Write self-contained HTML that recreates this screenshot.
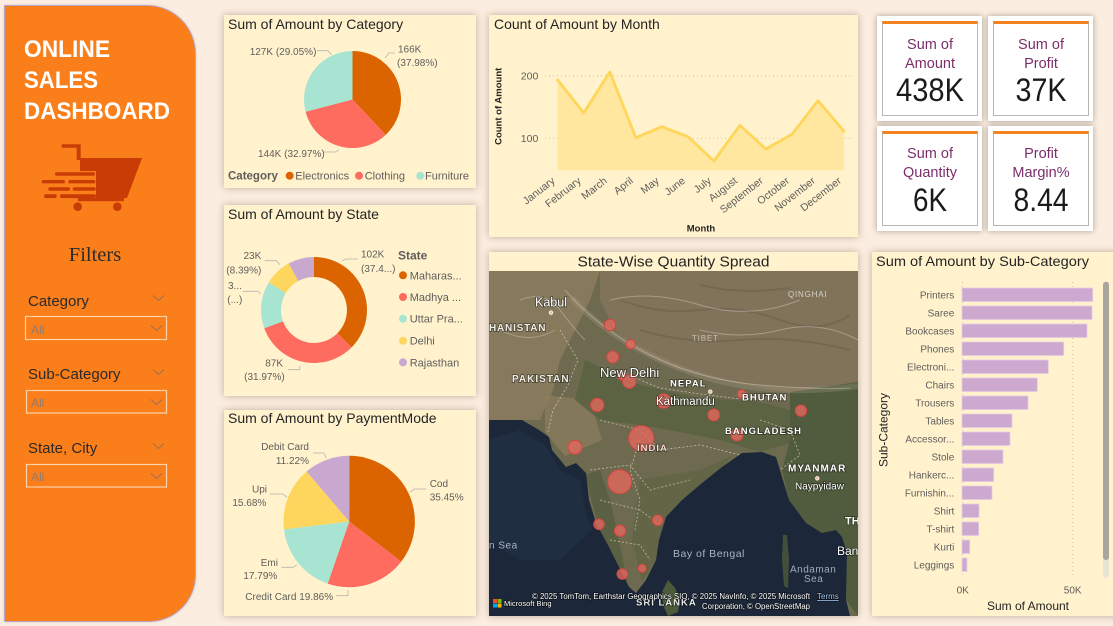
<!DOCTYPE html>
<html>
<head>
<meta charset="utf-8">
<style>
html,body{margin:0;padding:0;}
body{width:1113px;height:626px;background:#FBEDDF;position:relative;overflow:hidden;font-family:"Liberation Sans",sans-serif;}
.card{position:absolute;background:#FFF2CD;box-shadow:0 0 7px rgba(90,70,50,0.38);}
.panel{position:absolute;left:5px;top:6px;width:190px;height:615px;background:#FA7E19;border-radius:0 48px 46px 0;box-shadow:0 0 0 1px rgba(150,120,180,0.55),0 0 3px rgba(150,120,180,0.5);}
.kpi{position:absolute;background:#fff;box-shadow:0 0 6px rgba(0,0,0,0.32);}
.kpi .in{position:absolute;left:5px;top:5px;right:4px;bottom:5px;border:1px solid #B9B5B1;border-top:3px solid #F5821F;box-sizing:border-box;}
svg.ov{position:absolute;left:0;top:0;}
</style>
</head>
<body>
<div class="panel"></div>

<div class="card" style="left:224px;top:15px;width:252px;height:173px;"></div>
<div class="card" style="left:224px;top:205px;width:252px;height:191px;"></div>
<div class="card" style="left:224px;top:410px;width:252px;height:206px;"></div>
<div class="card" style="left:489px;top:15px;width:369px;height:222px;"></div>
<div class="card" style="left:489px;top:252px;width:369px;height:364px;"></div>
<div class="card" style="left:872px;top:252px;width:250px;height:364px;"></div>

<div class="kpi" style="left:877px;top:16px;width:105px;height:105px;"><div class="in"></div></div>
<div class="kpi" style="left:988px;top:16px;width:105px;height:105px;"><div class="in"></div></div>
<div class="kpi" style="left:877px;top:126px;width:105px;height:105px;"><div class="in"></div></div>
<div class="kpi" style="left:988px;top:126px;width:105px;height:105px;"><div class="in"></div></div>

<svg class="ov" width="1113" height="626" viewBox="0 0 1113 626" xmlns="http://www.w3.org/2000/svg" font-family="Liberation Sans, sans-serif">
<defs>
<clipPath id="mapclip"><rect x="489" y="271" width="369" height="345"/></clipPath>
</defs>

<!-- LEFT PANEL -->
<g fill="#FFFFFF" font-weight="bold" font-size="24">
<text x="24" y="57" textLength="86" lengthAdjust="spacingAndGlyphs">ONLINE</text>
<text x="24" y="88" textLength="74" lengthAdjust="spacingAndGlyphs">SALES</text>
<text x="24" y="119" textLength="146" lengthAdjust="spacingAndGlyphs">DASHBOARD</text>
</g>
<!-- cart -->
<g fill="#C93C05">
<polygon points="61.7,144.3 80.7,144.3 80.7,160 76.7,160 76.7,147.8 61.7,147.8"/>
<polygon points="80,158 142,158 127,198 96,198 96,171 80,171"/>
<rect x="55" y="172.3" width="40" height="3.4" rx="1.7"/>
<rect x="41.7" y="180" width="23.3" height="3.4" rx="1.7"/>
<rect x="68.3" y="180" width="27" height="3.4" rx="1.7"/>
<rect x="48.3" y="187.3" width="21.7" height="3.4" rx="1.7"/>
<rect x="72.7" y="187.3" width="23" height="3.4" rx="1.7"/>
<rect x="44" y="194.3" width="12.7" height="3.8" rx="1.9"/>
<rect x="60" y="194.3" width="36" height="3.8" rx="1.9"/>
<rect x="78" y="198" width="46" height="3.2"/>
<circle cx="77.7" cy="206.7" r="4.3"/>
<circle cx="117.3" cy="206.7" r="4.3"/>
</g>
<text x="95" y="261" text-anchor="middle" font-family="Liberation Serif, serif" font-size="20.5" fill="#2B2B2B">Filters</text>
<g font-size="15" fill="#2A2A2A">
<text x="28" y="306">Category</text>
<text x="28" y="379">Sub-Category</text>
<text x="28" y="453">State, City</text>
</g>
<g fill="none" stroke="#FDD3AA" stroke-width="1.2">
<rect x="25.5" y="316.5" width="141" height="23"/>
<rect x="26.5" y="390.5" width="140" height="22.5"/>
<rect x="26.5" y="464.5" width="140" height="22.5"/>
</g>
<g font-size="12" fill="#8F7A6E">
<text x="31" y="334">All</text>
<text x="31" y="407">All</text>
<text x="31" y="481">All</text>
</g>
<g fill="none" stroke="#9C6E5A" stroke-width="1">
<polyline points="153,295.5 158.5,300.5 164,295.5"/>
<polyline points="151,325.5 156.5,330.5 162,325.5"/>
<polyline points="153,369.5 158.5,374.5 164,369.5"/>
<polyline points="151,399.5 156.5,404.5 162,399.5"/>
<polyline points="153,443.5 158.5,448.5 164,443.5"/>
<polyline points="151,473.5 156.5,478.5 162,473.5"/>
</g>

<!-- CATEGORY PIE -->
<text x="228" y="29" font-size="14" fill="#252423">Sum of Amount by Category</text>
<path d="M352.5,99.5 L352.5,51 A48.5,48.5 0 0 1 385.74,134.82 Z" fill="#DC6400"/>
<path d="M352.5,99.5 L385.74,134.82 A48.5,48.5 0 0 1 305.56,111.71 Z" fill="#FE6B5F"/>
<path d="M352.5,99.5 L305.56,111.71 A48.5,48.5 0 0 1 352.5,51 Z" fill="#A7E4D2"/>
<g fill="none" stroke="#B9B4AC" stroke-width="0.8">
<polyline points="317,50.7 328,50.7 331.5,54.7"/>
<polyline points="385,58 389,53 395,53"/>
<polyline points="324,152 336.3,152 338.7,149.5"/>
</g>
<g font-size="10" fill="#605E5C">
<text x="398" y="52.5">166K</text>
<text x="397" y="66">(37.98%)</text>
<text x="249.7" y="55">127K (29.05%)</text>
<text x="258" y="157">144K (32.97%)</text>
</g>
<text x="228" y="179.7" font-size="11.5" font-weight="bold" fill="#605E5C">Category</text>
<circle cx="289.7" cy="175.7" r="4" fill="#DC6400"/>
<text x="295.3" y="179.7" font-size="11" fill="#605E5C">Electronics</text>
<circle cx="359" cy="175.7" r="4" fill="#FE6B5F"/>
<text x="364.7" y="179.7" font-size="11" fill="#605E5C">Clothing</text>
<circle cx="420.3" cy="175.7" r="4" fill="#A7E4D2"/>
<text x="425" y="179.7" font-size="11" fill="#605E5C">Furniture</text>

<!-- STATE DONUT -->
<text x="228" y="219" font-size="14" fill="#252423">Sum of Amount by State</text>
<path d="M314,257 A53,53 0 0 1 351.62,347.33 L337.42,333.25 A33,33 0 0 0 314,277 Z" fill="#DC6400"/>
<path d="M351.62,347.33 A53,53 0 0 1 264.24,328.24 L283.02,321.36 A33,33 0 0 0 337.42,333.25 Z" fill="#FE6B5F"/>
<path d="M264.24,328.24 A53,53 0 0 1 268.74,282.42 L285.82,292.83 A33,33 0 0 0 283.02,321.36 Z" fill="#A7E4D2"/>
<path d="M268.74,282.42 A53,53 0 0 1 288.75,263.4 L298.28,280.99 A33,33 0 0 0 285.82,292.83 Z" fill="#FED65D"/>
<path d="M288.75,263.4 A53,53 0 0 1 314,257 L314,277 A33,33 0 0 0 298.28,280.99 Z" fill="#C9A8CF"/>
<g fill="none" stroke="#B9B4AC" stroke-width="0.8">
<polyline points="342,260.7 346.3,259 358,259"/>
<polyline points="264.7,260.7 276.3,260.7 279.7,264.7"/>
<polyline points="243,291.3 258,291.3 260.7,294"/>
<polyline points="288,369.7 299.7,369.7 300,366"/>
</g>
<g font-size="10" fill="#605E5C">
<text x="361" y="257.5">102K</text>
<text x="361" y="271.8">(37.4...)</text>
<text x="261.3" y="258.8" text-anchor="end">23K</text>
<text x="261.3" y="273.5" text-anchor="end">(8.39%)</text>
<text x="228" y="288.8">3...</text>
<text x="227.3" y="303.2">(...)</text>
<text x="283" y="366.5" text-anchor="end">87K</text>
<text x="284.7" y="380.2" text-anchor="end">(31.97%)</text>
</g>
<text x="398" y="259.5" font-size="12" font-weight="bold" fill="#605E5C">State</text>
<g font-size="11" fill="#605E5C">
<circle cx="403" cy="275.3" r="4" fill="#DC6400"/><text x="409.7" y="279.3">Maharas...</text>
<circle cx="403" cy="297" r="4" fill="#FE6B5F"/><text x="409.7" y="301">Madhya ...</text>
<circle cx="403" cy="318.7" r="4" fill="#A7E4D2"/><text x="409.7" y="322.7">Uttar Pra...</text>
<circle cx="403" cy="340.7" r="4" fill="#FED65D"/><text x="409.7" y="344.7">Delhi</text>
<circle cx="403" cy="362.3" r="4" fill="#C9A8CF"/><text x="409.7" y="366.3">Rajasthan</text>
</g>

<!-- PAYMENT PIE -->
<text x="228" y="423" font-size="14" fill="#252423">Sum of Amount by PaymentMode</text>
<path d="M349.2,521.5 L349.2,455.8 A65.7,65.7 0 0 1 401.22,561.62 Z" fill="#DC6400"/>
<path d="M349.2,521.5 L401.22,561.62 A65.7,65.7 0 0 1 327.68,583.57 Z" fill="#FE6B5F"/>
<path d="M349.2,521.5 L327.68,583.57 A65.7,65.7 0 0 1 283.97,529.32 Z" fill="#A7E4D2"/>
<path d="M349.2,521.5 L283.97,529.32 A65.7,65.7 0 0 1 306.63,471.45 Z" fill="#FED65D"/>
<path d="M349.2,521.5 L306.63,471.45 A65.7,65.7 0 0 1 349.2,455.8 Z" fill="#C9A8CF"/>
<g fill="none" stroke="#B9B4AC" stroke-width="0.8">
<polyline points="313,453 324,453 326.3,458"/>
<polyline points="269.7,494 283,494 287,497.3"/>
<polyline points="409.7,492.3 414.7,489 426.3,489"/>
<polyline points="281.3,567.3 293,567.3 297,564.7"/>
<polyline points="336.3,595.7 348,595.7 348,590"/>
</g>
<g font-size="10" fill="#605E5C">
<text x="309" y="449.8" text-anchor="end">Debit Card</text>
<text x="309" y="463.8" text-anchor="end">11.22%</text>
<text x="267" y="492.5" text-anchor="end">Upi</text>
<text x="266.3" y="506.2" text-anchor="end">15.68%</text>
<text x="429.7" y="487.2">Cod</text>
<text x="429.7" y="500.5">35.45%</text>
<text x="278" y="565.8" text-anchor="end">Emi</text>
<text x="277.3" y="579.2" text-anchor="end">17.79%</text>
<text x="245.3" y="599.8">Credit Card 19.86%</text>
</g>

<!-- LINE CHART -->
<text x="494" y="29" font-size="14" fill="#252423">Count of Amount by Month</text>
<g stroke="#C8C2B4" stroke-width="1" stroke-dasharray="1,3">
<line x1="545" y1="75.7" x2="853" y2="75.7"/>
<line x1="545" y1="138.3" x2="853" y2="138.3"/>
</g>
<g font-size="10.5" fill="#605E5C" text-anchor="end">
<text x="538.3" y="79.5">200</text>
<text x="538.3" y="142">100</text>
</g>
<text transform="translate(498.3,106.3) rotate(-90)" text-anchor="middle" dy="3.3" font-size="9.5" font-weight="bold" fill="#252423">Count of Amount</text>
<path d="M557.7,170.3 L557.7,80 L583.7,113 L609.8,72 L635.8,137.7 L661.8,126.7 L687.9,136.7 L713.9,161 L739.9,125.3 L765.9,149 L792,134.3 L818,100.7 L844,131.3 L844,170.3 Z" fill="#FFE7A0"/>
<polyline points="557.7,80 583.7,113 609.8,72 635.8,137.7 661.8,126.7 687.9,136.7 713.9,161 739.9,125.3 765.9,149 792,134.3 818,100.7 844,131.3" fill="none" stroke="#FFD55A" stroke-width="2.8" stroke-linejoin="round" stroke-linecap="round"/>
<g font-size="10.5" fill="#605E5C" text-anchor="end">
<text transform="translate(555.7,182) rotate(-38)">January</text>
<text transform="translate(581.7,182) rotate(-38)">February</text>
<text transform="translate(607.8,182) rotate(-38)">March</text>
<text transform="translate(633.8,182) rotate(-38)">April</text>
<text transform="translate(659.8,182) rotate(-38)">May</text>
<text transform="translate(685.9,182) rotate(-38)">June</text>
<text transform="translate(711.9,182) rotate(-38)">July</text>
<text transform="translate(737.9,182) rotate(-38)">August</text>
<text transform="translate(763.9,182) rotate(-38)">September</text>
<text transform="translate(790,182) rotate(-38)">October</text>
<text transform="translate(816,182) rotate(-38)">November</text>
<text transform="translate(842,182) rotate(-38)">December</text>
</g>
<text x="701" y="231.3" text-anchor="middle" font-size="9.5" font-weight="bold" fill="#252423">Month</text>

<!-- KPI TEXT -->
<g font-size="14.5" fill="#7B2D6A" text-anchor="middle">
<text x="930" y="49">Sum of</text><text x="930" y="68">Amount</text>
<text x="1041" y="49">Sum of</text><text x="1041" y="68">Profit</text>
<text x="930" y="158">Sum of</text><text x="930" y="177">Quantity</text>
<text x="1041" y="158">Profit</text><text x="1041" y="177">Margin%</text>
</g>
<g font-size="32" fill="#1B1B1B" text-anchor="middle">
<text x="930" y="101" textLength="68" lengthAdjust="spacingAndGlyphs">438K</text>
<text x="1041" y="101" textLength="51" lengthAdjust="spacingAndGlyphs">37K</text>
<text x="930" y="211" textLength="34" lengthAdjust="spacingAndGlyphs">6K</text>
<text x="1041" y="211" textLength="55" lengthAdjust="spacingAndGlyphs">8.44</text>
</g>

<!-- MAP -->
<text x="673.5" y="266.5" text-anchor="middle" font-size="15" fill="#252423" textLength="192" lengthAdjust="spacingAndGlyphs">State-Wise Quantity Spread</text>
<g clip-path="url(#mapclip)">
<rect x="489" y="271" width="369" height="345" fill="#6E6A4F"/>
<polygon points="489,271 600,271 590,300 575,330 560,360 553,390 540,420 489,420" fill="#86795C"/>
<polygon points="600,271 858,271 858,382 800,394 760,388 720,380 680,370 640,352 615,330 600,300" fill="#80735A"/>
<g fill="none" stroke="#5E5644" stroke-width="2" opacity="0.35">
<path d="M620,300 Q660,315 700,310 T780,320 T850,315"/>
<path d="M640,330 Q690,345 740,340 T850,350"/>
<path d="M700,285 Q740,295 790,288"/>
</g>
<polygon points="545,395 590,400 602,440 565,456 545,432" fill="#8C7E5E" opacity="0.75"/>
<polygon points="585,360 640,385 700,398 760,402 790,410 800,440 760,452 720,440 680,432 640,425 600,420 575,400" fill="#58613F" opacity="0.85"/>
<polygon points="790,392 858,382 858,616 846,600 847,553 842,537 836,530 822,533 806,523 789,500 782,470 790,440" fill="#505C3D"/>
<polygon points="640,480 700,470 732,456 705,490 672,515 658,555 642,582 632,540" fill="#5A6341" opacity="0.6"/>
<polygon points="585,475 600,470 610,500 620,545 628,585 612,560 598,525" fill="#4F5A3A" opacity="0.6"/>
<g fill="none" stroke="#A99C86" stroke-width="6" opacity="0.3">
<path d="M572,298 Q615,345 690,372 T858,386"/>
</g>
<g fill="none" stroke="#ECE8E0" stroke-width="1" opacity="0.35">
<path d="M565,290 Q600,330 650,355 T760,385 T850,388"/>
<path d="M520,300 Q545,290 560,310 T585,340"/>
<path d="M500,330 Q530,345 555,330"/>
<path d="M610,300 Q650,290 700,305 T800,300"/>
<path d="M700,330 Q740,340 780,330 T858,340"/>
</g>
<polygon points="489,420 522,420 539,430 549,437 552,450 566,467 576,463 586,473 589,500 596,523 609,547 622,573 629,587 636,593 646,580 656,560 659,540 666,517 682,500 702,483 722,467 742,453 762,452 776,457 782,477 789,500 806,523 822,533 836,530 842,537 847,553 846,600 850,616 489,616" fill="#1C2839"/>
<polygon points="489,440 520,430 545,445 560,470 580,480 585,510 592,530 560,560 520,560 489,540" fill="#22334A" opacity="0.5"/>
<polygon points="668,580 675,588 680,600 678,612 668,616 663,605 662,592" fill="#4D5A3A"/>
<polygon points="783,535 787,535 789,560 788,588 784,586 782,560" fill="#4D5A3A" opacity="0.8"/>
<g fill="none" stroke="#E8E0D0" stroke-width="0.8" stroke-dasharray="2,2" opacity="0.7">
<path d="M560,330 L578,360 L568,385 L553,410 L548,432"/>
<path d="M620,372 L660,388 L700,394 L740,399"/>
<path d="M600,420 L640,430 L660,450 L700,445 L740,455"/>
<path d="M590,470 L630,465 L650,490 L690,480"/>
<path d="M600,500 L640,510 L660,525"/>
<path d="M610,540 L640,545 L650,560"/>
<path d="M640,440 L630,470 L640,500 L635,530"/>
<path d="M760,420 L790,430 L800,455 L780,470"/>
</g>
<g fill="#E2685C" fill-opacity="0.8" stroke="#D4463F" stroke-width="1">
<circle cx="610" cy="325" r="5.7"/>
<circle cx="630.7" cy="344.3" r="4.7"/>
<circle cx="612.7" cy="357" r="6"/>
<circle cx="621.7" cy="375.7" r="4.3"/>
<circle cx="629.3" cy="381.7" r="6.7"/>
<circle cx="597.3" cy="405" r="6.7"/>
<circle cx="663.7" cy="401" r="7.3"/>
<circle cx="741.7" cy="394" r="4.3"/>
<circle cx="801" cy="410.7" r="5.7"/>
<circle cx="713.7" cy="415" r="6"/>
<circle cx="737" cy="435" r="6"/>
<circle cx="641.3" cy="438.3" r="12.7"/>
<circle cx="575" cy="447.3" r="7"/>
<circle cx="619.7" cy="481.7" r="12"/>
<circle cx="657.7" cy="520.3" r="5.3"/>
<circle cx="599" cy="524.3" r="5.3"/>
<circle cx="620" cy="530.7" r="5.7"/>
<circle cx="642.3" cy="568.3" r="4"/>
<circle cx="622.3" cy="574" r="5.3"/>
</g>
<g fill="#F2B8A8" stroke="#FFFFFF" stroke-width="0.8">
<circle cx="551" cy="312.7" r="1.8"/>
<circle cx="710.3" cy="391.7" r="1.8"/>
<circle cx="817.3" cy="478.3" r="1.8"/>
</g>
<g fill="#FFFFFF" stroke="rgba(0,0,0,0.45)" stroke-width="1.6" style="paint-order:stroke">
<text x="535" y="306.5" font-size="12.5">Kabul</text>
<text x="489" y="331" font-size="10" font-weight="bold" letter-spacing="0.8" fill="#EFEDE6">HANISTAN</text>
<text x="512" y="382" font-size="10" font-weight="bold" letter-spacing="1" fill="#EFEDE6">PAKISTAN</text>
<text x="600" y="377" font-size="13">New Delhi</text>
<text x="670" y="386.5" font-size="9.5" font-weight="bold" letter-spacing="1">NEPAL</text>
<text x="656" y="405" font-size="11.5">Kathmandu</text>
<text x="742" y="400.5" font-size="9.5" font-weight="bold" letter-spacing="1">BHUTAN</text>
<text x="725" y="434" font-size="9.5" font-weight="bold" letter-spacing="1">BANGLADESH</text>
<text x="637" y="451" font-size="9.5" font-weight="bold" letter-spacing="1" fill="#F4DAD2">INDIA</text>
<text x="788" y="471.5" font-size="10" font-weight="bold" letter-spacing="1">MYANMAR</text>
<text x="795" y="489.5" font-size="10">Naypyidaw</text>
<text x="837" y="555" font-size="12">Ban</text>
<text x="845" y="524.5" font-size="11" font-weight="bold">TH</text>
<text x="636" y="605.5" font-size="9.5" font-weight="bold" letter-spacing="1" fill="#E8E8E8">SRI LANKA</text>
</g>
<g font-size="8" fill="#D6D2C8" letter-spacing="0.8">
<text x="788" y="297">QINGHAI</text>
<text x="692" y="341" fill="#C8C0B0">TIBET</text>
</g>
<g fill="#A9B6C6" letter-spacing="0.5">
<text x="673" y="557" font-size="10.5">Bay of Bengal</text>
<text x="790" y="572.5" font-size="10" fill="#9FAABA">Andaman</text>
<text x="804" y="582" font-size="10" fill="#9FAABA">Sea</text>
<text x="489" y="548.5" font-size="10">n Sea</text>
</g>
<g font-size="8" fill="#FFFFFF" stroke="rgba(0,0,0,0.5)" stroke-width="1.4" style="paint-order:stroke">
<text x="532" y="599" textLength="278" lengthAdjust="spacingAndGlyphs">© 2025 TomTom, Earthstar Geographics SIO, © 2025 NavInfo, © 2025 Microsoft</text>
<text x="702" y="609" textLength="108" lengthAdjust="spacingAndGlyphs">Corporation, © OpenStreetMap</text>
<text x="817" y="599" fill="#9EC3F0" text-decoration="underline">Terms</text>
<text x="504" y="606" font-size="7.5">Microsoft Bing</text>
</g>
<rect x="493" y="599" width="4" height="4" fill="#F25022"/>
<rect x="497.5" y="599" width="4" height="4" fill="#7FBA00"/>
<rect x="493" y="603.5" width="4" height="4" fill="#00A4EF"/>
<rect x="497.5" y="603.5" width="4" height="4" fill="#FFB900"/>
</g>

<!-- SUB-CATEGORY BAR -->
<text x="876" y="266" font-size="14" fill="#252423" textLength="213" lengthAdjust="spacingAndGlyphs">Sum of Amount by Sub-Category</text>
<g stroke="#C8C2B4" stroke-width="1" stroke-dasharray="1,3">
<line x1="962.5" y1="282" x2="962.5" y2="578"/>
<line x1="1072.7" y1="282" x2="1072.7" y2="578"/>
</g>
<g fill="#CEA9CF" stroke="#E4CCE4" stroke-width="0.8">
<rect x="962" y="288" width="130.7" height="13.5"/>
<rect x="962" y="306" width="130" height="13.5"/>
<rect x="962" y="324" width="125" height="13.5"/>
<rect x="962" y="342" width="101.7" height="13.5"/>
<rect x="962" y="360" width="86.3" height="13.5"/>
<rect x="962" y="378" width="75.3" height="13.5"/>
<rect x="962" y="396" width="66" height="13.5"/>
<rect x="962" y="414" width="50" height="13.5"/>
<rect x="962" y="432" width="48" height="13.5"/>
<rect x="962" y="450" width="41" height="13.5"/>
<rect x="962" y="468" width="31.7" height="13.5"/>
<rect x="962" y="486" width="30" height="13.5"/>
<rect x="962" y="504" width="17" height="13.5"/>
<rect x="962" y="522" width="16.7" height="13.5"/>
<rect x="962" y="540" width="7.7" height="13.5"/>
<rect x="962" y="558" width="5" height="13.5"/>
</g>
<g font-size="10" fill="#605E5C" text-anchor="end">
<text x="954.3" y="298.5">Printers</text>
<text x="954.3" y="316.5">Saree</text>
<text x="954.3" y="334.5">Bookcases</text>
<text x="954.3" y="352.5">Phones</text>
<text x="954.3" y="370.5">Electroni...</text>
<text x="954.3" y="388.5">Chairs</text>
<text x="954.3" y="406.5">Trousers</text>
<text x="954.3" y="424.5">Tables</text>
<text x="954.3" y="442.5">Accessor...</text>
<text x="954.3" y="460.5">Stole</text>
<text x="954.3" y="478.5">Hankerc...</text>
<text x="954.3" y="496.5">Furnishin...</text>
<text x="954.3" y="514.5">Shirt</text>
<text x="954.3" y="532.5">T-shirt</text>
<text x="954.3" y="550.5">Kurti</text>
<text x="954.3" y="568.5">Leggings</text>
</g>
<g font-size="10" fill="#605E5C" text-anchor="middle">
<text x="962.7" y="593.5">0K</text>
<text x="1072.7" y="593.5">50K</text>
</g>
<text x="1028" y="610" text-anchor="middle" font-size="12" fill="#252423">Sum of Amount</text>
<text transform="translate(883.3,430) rotate(-90)" text-anchor="middle" dy="4" font-size="12" fill="#252423">Sub-Category</text>
<rect x="1103" y="281.7" width="6" height="296.3" rx="3" fill="#EAE4D6"/>
<rect x="1103" y="281.7" width="6" height="278.3" rx="3" fill="#A9A59D"/>
</svg>
</body>
</html>
